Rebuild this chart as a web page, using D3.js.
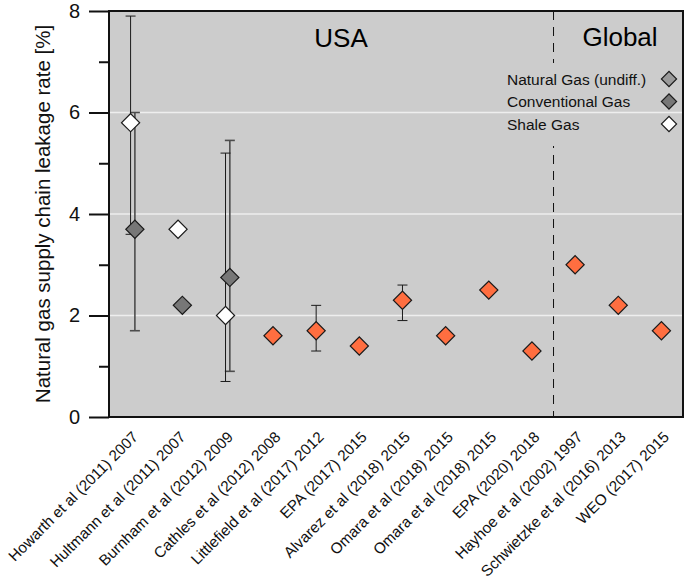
<!DOCTYPE html>
<html>
<head>
<meta charset="utf-8">
<script src="https://cdn.jsdelivr.net/npm/d3@7"></script>
<style>
  body { margin: 0; background: #fff; }
  svg { font-family: Arial, "Liberation Sans", sans-serif; }
</style>
</head>
<body>
<svg width="685" height="585"></svg>
<script>
// --- Data ---
const studies = [
	"Howarth et al (2011) 2007",
	"Hultmann et al (2011) 2007",
	"Burnham et al (2012) 2009",
	"Cathles et al (2012) 2008",
	"Littlefield et al (2017) 2012",
	"EPA (2017) 2015",
	"Alvarez et al (2018) 2015",
	"Omara et al (2018) 2015",
	"Omara et al (2018) 2015",
	"EPA (2020) 2018",
	"Hayhoe et al (2002) 1997",
	"Schwietzke et al (2016) 2013",
	"WEO (2017) 2015"
];
// x value of each study on the chart axis
const studyX = [0.7, 1.8, 2.9, 4, 5, 6, 7, 8, 9, 10, 11, 12, 13];

// Shale gas (Howarth, Hultmann, Burnham)
const shaleX = [0.7, 1.8, 2.9];
const shaleRate = [5.8, 3.7, 2.0];
const shaleLow = [3.6, null, 0.7];
const shaleHigh = [7.9, null, 5.2];

// Conventional gas (Howarth, Hultmann, Burnham)
const convX = [0.8, 1.9, 3.0];
const convRate = [3.7, 2.2, 2.75];
const convLow = [1.7, null, 0.9];
const convHigh = [6.0, null, 5.45];

// Natural gas, undifferentiated (Cathles .. WEO)
const natX = [4, 5, 6, 7, 8, 9, 10, 11, 12, 13];
const natRate = [1.6, 1.7, 1.4, 2.3, 1.6, 2.5, 1.3, 3.0, 2.2, 1.7];
const natLow = [null, 1.3, null, 1.9, null, null, null, null, null, null];
const natHigh = [null, 2.2, null, 2.6, null, null, null, null, null, null];

const regionLabels = ["USA", "Global"];
const regionSplit = 10.5;

const yMajor = [0, 2, 4, 6, 8];
const yMinor = [1, 3, 5, 7];
const gridValues = [2, 4, 6];

const legendNames = ["Natural Gas (undiff.)", "Conventional Gas", "Shale Gas"];
const legendColors = ["#9a9a9a", "#777777", "#ffffff"];

// -------------------------
// Scales
// -------------------------
const svg = d3.select("svg");
const PLOT_L = 109, PLOT_R = 683, PLOT_T = 11, PLOT_B = 417;

const x = d3.scaleLinear().domain([0.2, 13.5]).range([PLOT_L, PLOT_R]);
const y = d3.scaleLinear().domain([0, 8]).range([PLOT_B, PLOT_T]);

const ORANGE = "#ff6e40";
const diamond = d3.symbol().type(d3.symbolSquare).size(165);

// background
svg.append("rect")
	.attr("x", PLOT_L).attr("y", PLOT_T)
	.attr("width", PLOT_R - PLOT_L).attr("height", PLOT_B - PLOT_T)
	.attr("fill", "#cccccc");

// dashed USA / Global divider
svg.append("line")
	.attr("x1", x(regionSplit)).attr("x2", x(regionSplit))
	.attr("y1", PLOT_T).attr("y2", PLOT_B)
	.attr("stroke", "#111")
	.attr("stroke-width", 1)
	.attr("stroke-dasharray", "9,7");

// legend background hides the divider
svg.append("rect")
	.attr("x", 500).attr("y", 63)
	.attr("width", PLOT_R - 500).attr("height", 83)
	.attr("fill", "#cccccc");

// gridlines
svg.append("g")
	.selectAll("line")
	.data(gridValues)
	.enter()
	.append("line")
	.attr("x1", PLOT_L).attr("x2", PLOT_R)
	.attr("y1", (d) => y(d)).attr("y2", (d) => y(d))
	.attr("stroke", "#eeeeee")
	.attr("stroke-width", 1.5);

// region labels
svg.append("text")
	.attr("x", 341).attr("y", 47)
	.attr("text-anchor", "middle")
	.attr("font-size", 26)
	.text(regionLabels[0]);
svg.append("text")
	.attr("x", 620).attr("y", 46)
	.attr("text-anchor", "middle")
	.attr("font-size", 26)
	.text(regionLabels[1]);

// -------------------------
// Error bars
// -------------------------
function drawErrors(xs, lows, highs, color, width) {
	const rows = xs
		.map((xv, i) => ({ x: xv, lo: lows[i], hi: highs[i] }))
		.filter((d) => d.lo != null);
	const g = svg.append("g")
		.attr("stroke", color)
		.attr("stroke-width", width)
		.attr("fill", "none");
	rows.forEach((d) => {
		g.append("line")
			.attr("x1", x(d.x)).attr("x2", x(d.x))
			.attr("y1", y(d.lo)).attr("y2", y(d.hi));
		[d.lo, d.hi].forEach((v) => {
			g.append("line")
				.attr("x1", x(d.x) - 5).attr("x2", x(d.x) + 5)
				.attr("y1", y(v)).attr("y2", y(v));
		});
	});
}

drawErrors(convX, convLow, convHigh, "#4d4d4d", 1.6);
drawErrors(shaleX, shaleLow, shaleHigh, "#1a1a1a", 1);
drawErrors(natX, natLow, natHigh, "#1a1a1a", 1);

// -------------------------
// Diamonds
// -------------------------
function drawPoints(xs, ys, fill) {
	svg.append("g")
		.selectAll("path")
		.data(xs.map((xv, i) => [xv, ys[i]]))
		.enter()
		.append("path")
		.attr("d", diamond)
		.attr("transform", (d) => `translate(${x(d[0])},${y(d[1])}) rotate(45)`)
		.attr("fill", fill)
		.attr("stroke", "#1a1a1a")
		.attr("stroke-width", 1.2);
}

drawPoints(convX, convRate, "#777777");
drawPoints(shaleX, shaleRate, "#ffffff");
drawPoints(natX, natRate, ORANGE);

// -------------------------
// Legend
// -------------------------
const legendSym = d3.symbol().type(d3.symbolSquare).size(115);
const legend = svg.append("g");
legendNames.forEach((name, i) => {
	const cy = 79 + i * 22.5;
	legend.append("text")
		.attr("x", 507).attr("y", cy + 5.5)
		.attr("font-size", 15.5)
		.attr("fill", "#111")
		.text(name);
	legend.append("path")
		.attr("d", legendSym)
		.attr("transform", `translate(669,${cy}) rotate(45)`)
		.attr("fill", legendColors[i])
		.attr("stroke", "#1a1a1a")
		.attr("stroke-width", 1.2);
});

// -------------------------
// Axes
// -------------------------
const yAxis = svg.append("g")
	.attr("transform", `translate(${PLOT_L},0)`)
	.call(d3.axisLeft(y).tickValues(yMajor).tickSize(20).tickPadding(9));
yAxis.select(".domain").remove();
yAxis.selectAll("line").attr("stroke", "#111").attr("stroke-width", 2);
yAxis.selectAll("text")
	.attr("font-size", 20)
	.attr("font-family", "Arial, 'Liberation Sans', sans-serif")
	.attr("fill", "#111");

const yMinorAxis = svg.append("g")
	.attr("transform", `translate(${PLOT_L},0)`)
	.call(d3.axisLeft(y).tickValues(yMinor).tickSize(10).tickFormat(""));
yMinorAxis.select(".domain").remove();
yMinorAxis.selectAll("line").attr("stroke", "#111").attr("stroke-width", 2);

const xAxis = svg.append("g")
	.attr("transform", `translate(0,${PLOT_B})`)
	.call(
		d3.axisBottom(x)
			.tickValues(studyX)
			.tickSize(0)
			.tickFormat((d, i) => studies[i])
	);
xAxis.select(".domain").remove();
xAxis.selectAll("text")
	.attr("font-size", 15.3)
	.attr("font-family", "Arial, 'Liberation Sans', sans-serif")
	.attr("fill", "#111")
	.attr("text-anchor", "end")
	.attr("x", 0).attr("y", 0).attr("dy", 0)
	.attr("transform", "translate(8,21) rotate(-45)");

// plot frame
svg.append("rect")
	.attr("x", PLOT_L).attr("y", PLOT_T)
	.attr("width", PLOT_R - PLOT_L).attr("height", PLOT_B - PLOT_T)
	.attr("fill", "none")
	.attr("stroke", "#111")
	.attr("stroke-width", 2);

// y title
svg.append("text")
	.attr("transform", `translate(50,214) rotate(-90)`)
	.attr("text-anchor", "middle")
	.attr("font-size", 20.5)
	.attr("fill", "#111")
	.text("Natural gas supply chain leakage rate [%]");
</script>
</body>
</html>
